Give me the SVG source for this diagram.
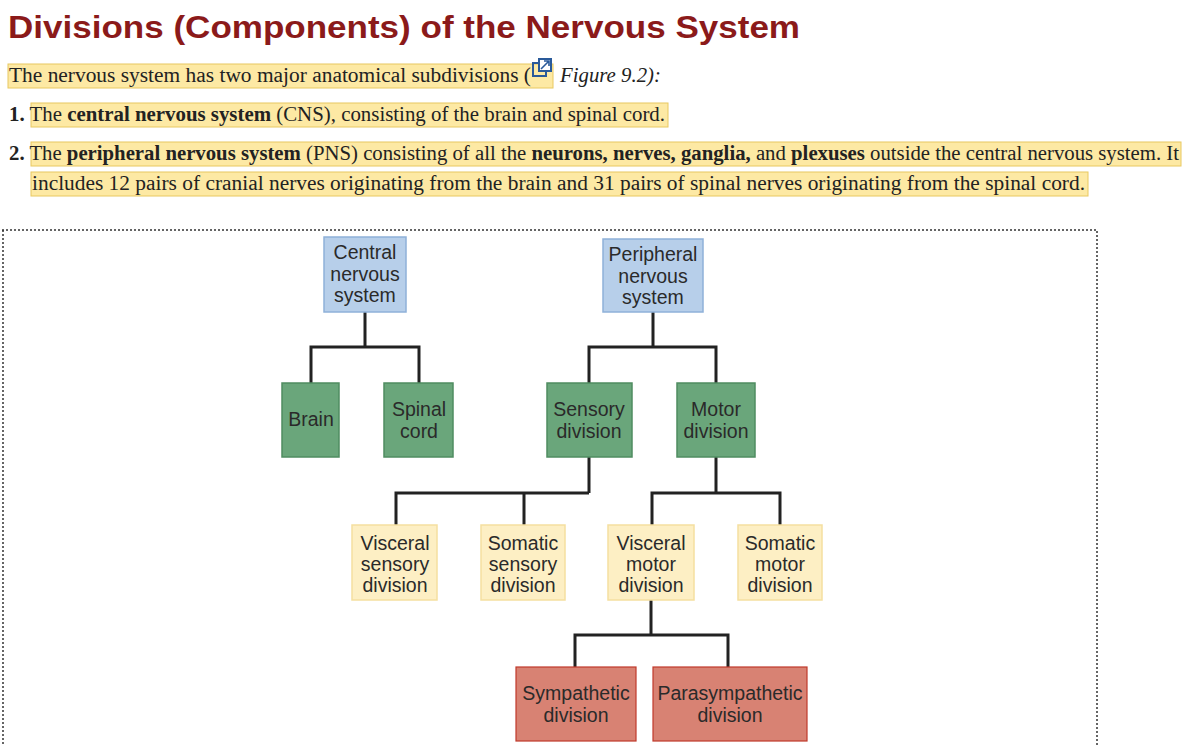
<svg xmlns="http://www.w3.org/2000/svg" width="1200" height="745" viewBox="0 0 1200 745">
<style>
.h{fill:#fde9a4;stroke:#e8c860;stroke-width:1}
.t{font-family:"Liberation Serif",serif;font-size:20.8px;fill:#222}
.b{font-weight:bold}
.n{font-family:"Liberation Sans",Arial,sans-serif;font-size:19.5px;fill:#2a2a2a;text-anchor:middle}
.blue{fill:#b7cfea;stroke:#8fb1d9;stroke-width:1.5}
.green{fill:#6aa67b;stroke:#4f8c60;stroke-width:1.5}
.yel{fill:#fdefc4;stroke:#f5dfa0;stroke-width:1.5}
.red{fill:#d88273;stroke:#c0392b;stroke-width:1.2}
.c{fill:none;stroke:#222;stroke-width:3}
</style>
<rect width="1200" height="745" fill="#fff"/>
<text x="8" y="38" font-family="Liberation Sans,Arial,sans-serif" font-weight="bold" font-size="31" fill="#8b1a1a" textLength="792" lengthAdjust="spacingAndGlyphs">Divisions (Components) of the Nervous System</text>
<rect class="h" x="8" y="64" width="545" height="24"/>
<text class="t" x="9" y="82" textLength="522" lengthAdjust="spacingAndGlyphs">The nervous system has two major anatomical subdivisions (</text>
<g><rect x="533" y="63" width="13" height="13" fill="none" stroke="#2a5a9a" stroke-width="2"/><rect x="539" y="59" width="12" height="12" fill="#fff" stroke="#2a5a9a" stroke-width="2"/><path d="M541 69 L549 61 M544 61 L549 61 L549 66" stroke="#2a5a9a" stroke-width="1.6" fill="none"/></g>
<text class="t" x="560" y="82" font-style="italic" fill="#1d4e8f">Figure 9.2)<tspan fill="#222">:</tspan></text>
<rect class="h" x="31" y="103" width="637" height="24"/>
<text class="t" x="9" y="121" textLength="656" lengthAdjust="spacingAndGlyphs"><tspan class="b">1.</tspan> The <tspan class="b">central nervous system</tspan> (CNS), consisting of the brain and spinal cord.</text>
<rect class="h" x="31" y="142" width="1150" height="24"/>
<rect class="h" x="31" y="172" width="1057" height="24"/>
<text class="t" x="9" y="160" textLength="1170" lengthAdjust="spacingAndGlyphs"><tspan class="b">2.</tspan> The <tspan class="b">peripheral nervous system</tspan> (PNS) consisting of all the <tspan class="b">neurons, nerves, ganglia,</tspan> and <tspan class="b">plexuses</tspan> outside the central nervous system. It</text>
<text class="t" x="32" y="190" textLength="1053" lengthAdjust="spacingAndGlyphs">includes 12 pairs of cranial nerves originating from the brain and 31 pairs of spinal nerves originating from the spinal cord.</text>
<path d="M2 230 H1097 V745 M3 230 V745" fill="none" stroke="#333" stroke-width="1.5" stroke-dasharray="2,2"/>
<g id="connectors">
<path class="c" d="M365 312 V347 M311 383 V347 H419 V383"/>
<path class="c" d="M653 312 V347 M589 383 V347 H716 V383"/>
<path class="c" d="M589 457 V493 M396 525 V493 H589 M524 493 V525"/>
<path class="c" d="M716 457 V493 M652 525 V493 H780 V525"/>
<path class="c" d="M651 600 V635 M575 667 V635 H728 V667"/>
</g>
<g id="cns"><rect class="blue" x="324" y="237" width="82" height="75"/><text class="n"><tspan x="365" y="259">Central</tspan><tspan x="365" y="281">nervous</tspan><tspan x="365" y="302">system</tspan></text></g>
<g id="pns"><rect class="blue" x="603" y="239" width="100" height="73"/><text class="n"><tspan x="653" y="261">Peripheral</tspan><tspan x="653" y="283">nervous</tspan><tspan x="653" y="304">system</tspan></text></g>
<g id="brain"><rect class="green" x="282" y="383" width="57" height="74"/><text class="n" x="311" y="426">Brain</text></g>
<g id="spinal"><rect class="green" x="384" y="383" width="69" height="74"/><text class="n"><tspan x="419" y="416">Spinal</tspan><tspan x="419" y="438">cord</tspan></text></g>
<g id="sensory"><rect class="green" x="547" y="383" width="85" height="74"/><text class="n"><tspan x="589" y="416">Sensory</tspan><tspan x="589" y="438">division</tspan></text></g>
<g id="motor"><rect class="green" x="677" y="383" width="78" height="74"/><text class="n"><tspan x="716" y="416">Motor</tspan><tspan x="716" y="438">division</tspan></text></g>
<g id="vsens"><rect class="yel" x="352" y="525" width="85" height="75"/><text class="n"><tspan x="395" y="550">Visceral</tspan><tspan x="395" y="571">sensory</tspan><tspan x="395" y="592">division</tspan></text></g>
<g id="ssens"><rect class="yel" x="481" y="525" width="84" height="75"/><text class="n"><tspan x="523" y="550">Somatic</tspan><tspan x="523" y="571">sensory</tspan><tspan x="523" y="592">division</tspan></text></g>
<g id="vmot"><rect class="yel" x="608" y="525" width="86" height="75"/><text class="n"><tspan x="651" y="550">Visceral</tspan><tspan x="651" y="571">motor</tspan><tspan x="651" y="592">division</tspan></text></g>
<g id="smot"><rect class="yel" x="738" y="525" width="84" height="75"/><text class="n"><tspan x="780" y="550">Somatic</tspan><tspan x="780" y="571">motor</tspan><tspan x="780" y="592">division</tspan></text></g>
<g id="symp"><rect class="red" x="516" y="667" width="120" height="74"/><text class="n"><tspan x="576" y="700">Sympathetic</tspan><tspan x="576" y="722">division</tspan></text></g>
<g id="para"><rect class="red" x="653" y="667" width="154" height="74"/><text class="n"><tspan x="730" y="700">Parasympathetic</tspan><tspan x="730" y="722">division</tspan></text></g>
</svg>
